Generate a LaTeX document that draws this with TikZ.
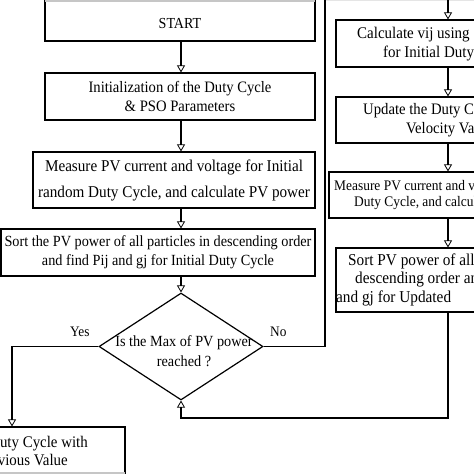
\documentclass[tikz,border=0pt]{standalone}
\usepackage{fontspec}
\setmainfont[FakeStretch=0.92]{Liberation Serif}
\usetikzlibrary{arrows.meta,shapes.geometric}
\newcommand{\fs}[2]{\fontsize{#1}{#2}\selectfont}
\begin{document}
\begin{tikzpicture}[x=1pt,y=-1pt,
  box/.style={draw,line width=1.2pt,inner sep=0pt,align=center},
  arr/.style={line width=1.2pt,-{Triangle[open,length=7pt,width=8pt,line width=0.8pt]}},
  ln/.style={line width=1.2pt},
  lbl/.style={inner sep=0pt,anchor=base west},
  lble/.style={inner sep=0pt,anchor=base east}]
\useasboundingbox (0,0) rectangle (474,474);
\clip (0,0) rectangle (474,474);
\fill[white] (0,0) rectangle (474,474);

% left column
\node[box,minimum width=270pt,minimum height=47pt,text height=21pt,text depth=0pt,font=\fs{15.3}{18}] (start) at (180,17.5) {START};
\fill[gray!45] (45,0) rectangle (315,2);
\fill[gray!20] (325,0) rectangle (474,1.2);
\node[box,minimum width=270pt,minimum height=47pt,font=\fs{15.9}{18.5}] (init) at (180,96.5) {Initialization of the Duty Cycle\\\& PSO Parameters};
\node[box,minimum width=282pt,minimum height=56pt,font=\fs{16.5}{26}] (meas) at (174,180) {Measure PV current and voltage for Initial\\random Duty Cycle, and calculate PV power};
\node[box,minimum width=314pt,minimum height=47pt,font=\fs{15.5}{19}] (sort) at (158,252.5) {Sort the PV power of all particles in descending order\\and find Pij and gj for Initial Duty Cycle};
\node[diamond,draw,line width=1.2pt,inner sep=0pt,minimum width=164pt,minimum height=107pt] (dia) at (181,346.5) {};
\node[inner sep=0pt,align=center,font=\fs{15.5}{20}] (diatext) at (184,351.5) {Is the Max of PV power\\reached ?};
\node[lbl,font=\fs{14.5}{18}] (yes) at (70,336) {Yes};
\node[lbl,font=\fs{14.5}{18}] (no) at (270,336) {No};

\node[box,minimum width=135pt,minimum height=53pt] (keep) at (57.5,453.5) {};
\fill[gray!45] (0,472) rectangle (125,474);
\node[lble,font=\fs{16.2}{18}] (keepA) at (88,447) {uty Cycle with};
\node[lble,font=\fs{16.2}{18}] (keepB) at (68,465) {vious Value};

% right column
\node[box,minimum width=264pt,minimum height=47pt] (calc) at (468,43.5) {};
\node[lbl,font=\fs{16.3}{18}] (calcA) at (357,38) {Calculate vij using};
\node[lbl,font=\fs{16.3}{18}] (calcB) at (383,57) {for Initial Duty Cycle};
\node[box,minimum width=264pt,minimum height=46pt] (upd) at (468,120) {};
\node[lbl,font=\fs{16}{18}] (updA) at (363,114) {Update the Duty Cycle};
\node[lbl,font=\fs{16}{18}] (updB) at (406,133) {Velocity Value};
\node[box,minimum width=271pt,minimum height=46pt] (meas2) at (464.5,195) {};
\node[lbl,font=\fs{14.6}{16}] (meas2A) at (334,190) {Measure PV current and voltage};
\node[lbl,font=\fs{14.6}{16}] (meas2B) at (354,206) {Duty Cycle, and calculate};
\node[box,minimum width=264pt,minimum height=64pt] (sort2) at (468,280) {};
\node[lbl,font=\fs{16.6}{18}] (sort2A) at (348,265) {Sort PV power of all};
\node[lbl,font=\fs{16.6}{18}] (sort2B) at (355,283.5) {descending order and};
\node[lbl,font=\fs{16.6}{18}] (sort2C) at (336,302) {and gj for Updated};

% coordinates
\coordinate (yesc) at (12,346.5);
\coordinate (notop) at (325,-5);
\coordinate (topr) at (448,-5);
\coordinate (loopc) at (448,418);

% connectors
\draw[arr] (start.south -| dia.north) -- (init.north -| dia.north);
\draw[arr] (init.south -| dia.north) -- (meas.north -| dia.north);
\draw[arr] (meas.south -| dia.north) -- (sort.north -| dia.north);
\draw[arr] (sort.south -| dia.north) -- (dia.north);
\draw[arr] (dia.west) -- (yesc) -- (yesc |- keep.north);
\draw[ln] (dia.east) -| (notop);
\draw[arr] (topr) -- (calc.north -| topr);
\draw[arr] (calc.south -| topr) -- (upd.north -| topr);
\draw[arr] (upd.south -| topr) -- (meas2.north -| topr);
\draw[arr] (meas2.south -| topr) -- (sort2.north -| topr);
\draw[arr] (sort2.south -| topr) -- (loopc) -| (dia.south);
\end{tikzpicture}
\end{document}
